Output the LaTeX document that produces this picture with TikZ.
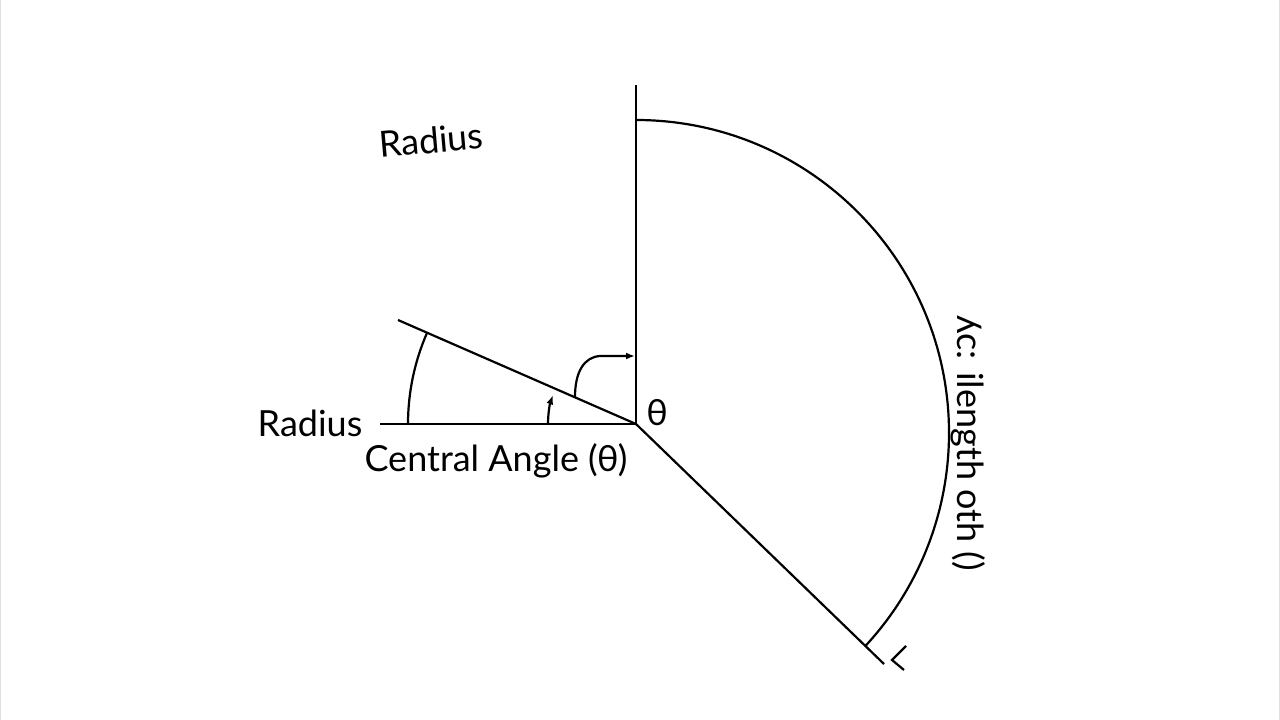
\documentclass[tikz,border=0pt]{standalone}
\usepackage{fontspec}
\setmainfont{Lato}
\usetikzlibrary{arrows.meta}
\begin{document}
\begin{tikzpicture}[x=1pt,y=-1pt,line width=2.2pt,
  lbl/.style={font=\fontsize{36}{40}\selectfont},
  tip/.style={-{Latex[length=9pt,width=7pt]}}]
\useasboundingbox (0,0) rectangle (1280,720);
\draw[gray!25,line width=1pt] (0.5,0) -- (0.5,720) (1279.5,0) -- (1279.5,720);
\coordinate (O) at (636,424);
\coordinate (T) at (636,85);
\coordinate (L) at (380,424);
\coordinate (S) at (398,320);
\coordinate (E) at (884,664);
\draw (T) -- (O) -- (L);
\draw (O) -- (S);
\draw (O) -- (E);
% main arc
\draw (636,120) arc[start angle=90,end angle=-43,x radius=313,y radius=-313];
% left arc
\draw (408,424) arc[start angle=180,end angle=156.4,x radius=228,y radius=-228];
% small arrow arc
\draw[tip] (548,424) arc[start angle=180,end angle=161,x radius=88,y radius=-88];
% upper arrow
\draw[tip] (575,397) .. controls (575,372) and (584,357) .. (600,356) -- (635,356);
% end mark
\draw (906,646) -- (892,660) -- (904,670);
% texts
\node[lbl,rotate=5] (r1) at (431,140) {Radius};
\node[lbl] (r2) at (310,423) {Radius};
\node[lbl] (ca) at (496,461) {Central Angle (θ)};
\node[lbl] (th) at (657,413) {θ};
\node[lbl,rotate=-90] (arc) at (968,443) {ʎc: ilength oth ()};
\end{tikzpicture}
\end{document}
